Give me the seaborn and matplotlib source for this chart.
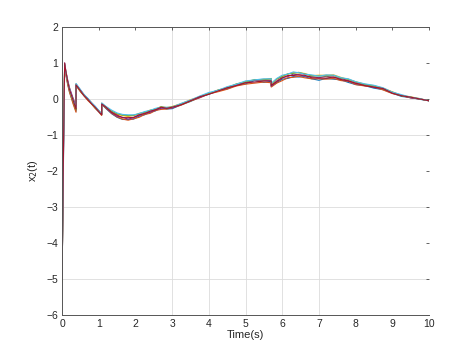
import numpy as np
import pandas as pd
import seaborn as sns
import matplotlib
matplotlib.use("Agg")
import matplotlib.pyplot as plt

# time grid, four pieces (the jumps repeat a time value)
t_a = [0.0, 0.04, 0.07, 0.1, 0.15, 0.2, 0.25, 0.3, 0.38]
t_b = [0.38, 0.5, 0.6, 0.7, 0.8, 0.9, 1.0, 1.08]
t_c = [1.08, 1.2, 1.35, 1.5, 1.65, 1.8, 1.95, 2.1, 2.25, 2.4, 2.55, 2.7, 2.85,
       3.0, 3.25, 3.5, 3.75, 4.0, 4.25, 4.5, 4.75, 5.0, 5.25, 5.5, 5.7]
t_d = [5.7, 5.85, 6.0, 6.15, 6.3, 6.45, 6.6, 6.8, 7.0, 7.2, 7.4, 7.6, 7.8,
       8.0, 8.25, 8.5, 8.75, 9.0, 9.25, 9.5, 9.75, 10.0]
time_s = t_a + t_b + t_c + t_d

# centre of the bundle of trajectories
x2_centre = ([-5.0, -1.2, 0.95, 0.75, 0.48, 0.27, 0.1, -0.04, -0.27]
             + [0.4, 0.23, 0.1, -0.01, -0.12, -0.23, -0.34, -0.43]
             + [-0.13, -0.24, -0.36, -0.45, -0.5, -0.52, -0.5, -0.45, -0.4, -0.35,
                -0.3, -0.25, -0.26, -0.24, -0.15, -0.05, 0.05, 0.14, 0.22, 0.3,
                0.38, 0.45, 0.49, 0.5, 0.51]
             + [0.38, 0.5, 0.58, 0.63, 0.66, 0.66, 0.64, 0.6, 0.58, 0.6, 0.6, 0.55,
                0.5, 0.43, 0.38, 0.33, 0.28, 0.17, 0.09, 0.04, 0.0, -0.05])

# how far each run sits from the centre
dev_run1 = ([0.0, 0.1, -0.03, -0.04, -0.05, -0.06, -0.05, -0.06, -0.07]
            + [-0.02, -0.02, -0.01, -0.02, -0.01, -0.02, -0.02, -0.01]
            + [-0.01, -0.03, -0.05, -0.06, -0.07, -0.05, -0.06, -0.03, -0.04, -0.02,
               -0.03, 0.01, -0.02, -0.03, -0.01, -0.02, 0.0, -0.01, 0.01, -0.02,
               0.0, -0.03, 0.02, -0.04, -0.02]
            + [-0.03, -0.05, -0.03, -0.06, -0.04, -0.05, -0.02, -0.04, -0.06, -0.03,
               -0.05, -0.02, -0.04, -0.03, -0.01, -0.03, -0.02, -0.01, -0.02, 0.0,
               -0.01, 0.0])
dev_run2 = ([0.1, -0.2, -0.06, -0.05, -0.07, -0.08, -0.07, -0.1, -0.1]
            + [-0.03, -0.03, -0.02, -0.03, -0.02, -0.03, -0.02, -0.03]
            + [-0.02, -0.02, -0.04, -0.05, -0.06, -0.07, -0.05, -0.06, -0.03, -0.05,
               -0.02, -0.04, -0.02, -0.01, -0.02, -0.01, -0.02, 0.0, -0.02, -0.03,
               -0.02, -0.04, -0.05, -0.03, -0.06]
            + [-0.05, -0.06, -0.07, -0.04, -0.06, -0.03, -0.05, -0.04, -0.02, -0.05,
               -0.03, -0.04, -0.01, -0.03, -0.02, 0.0, -0.03, -0.02, 0.0, -0.01,
               0.0, 0.0])
dev_run3 = ([-0.1, 0.3, 0.02, 0.03, 0.02, 0.04, 0.03, 0.05, 0.06]
            + [0.02, 0.01, 0.02, 0.01, 0.02, 0.01, 0.02, 0.02]
            + [0.01, 0.02, 0.03, 0.02, 0.04, 0.03, 0.05, 0.02, 0.03, 0.01,
               0.02, 0.04, 0.02, 0.03, 0.02, 0.03, 0.01, 0.02, 0.0, 0.03,
               0.02, 0.04, 0.03, 0.05, 0.04]
            + [0.02, 0.04, 0.06, 0.05, 0.08, 0.06, 0.07, 0.05, 0.08, 0.06,
               0.07, 0.05, 0.04, 0.05, 0.03, 0.04, 0.02, 0.03, 0.01, 0.02,
               0.01, 0.0])
dev_run4 = ([0.0, -0.1, 0.05, 0.04, 0.06, 0.05, 0.07, 0.06, 0.08]
            + [0.01, 0.02, 0.01, 0.02, 0.01, 0.02, 0.01, 0.01]
            + [0.0, -0.01, -0.02, -0.03, -0.01, -0.04, -0.02, -0.01, 0.01, -0.02,
               0.0, -0.01, 0.01, -0.01, 0.0, 0.01, -0.01, 0.01, 0.02, 0.0,
               0.02, 0.01, 0.03, 0.02, 0.01]
            + [-0.02, 0.0, 0.02, -0.01, 0.03, 0.01, 0.0, 0.02, 0.01, 0.03,
               0.0, 0.02, 0.01, 0.0, 0.02, -0.01, 0.01, 0.0, 0.01, -0.01,
               0.0, 0.0])
dev_run5 = ([-0.05, 0.2, -0.02, 0.0, -0.02, -0.01, -0.03, -0.02, -0.03]
            + [0.0, -0.01, 0.0, 0.01, 0.0, -0.01, 0.0, 0.0]
            + [0.01, 0.0, 0.02, 0.04, 0.05, 0.06, 0.04, 0.05, 0.03, 0.04,
               0.02, 0.03, 0.01, 0.02, 0.01, 0.0, 0.02, 0.01, 0.03, 0.01,
               0.04, 0.02, 0.05, 0.03, 0.06]
            + [0.04, 0.06, 0.04, 0.07, 0.05, 0.08, 0.06, 0.04, 0.06, 0.04,
               0.05, 0.03, 0.05, 0.04, 0.02, 0.03, 0.01, 0.02, 0.0, 0.01,
               0.0, 0.0])
dev_run6 = ([0.05, -0.3, 0.03, 0.02, 0.01, 0.02, 0.01, 0.02, 0.03]
            + [0.03, 0.03, 0.02, 0.03, 0.02, 0.03, 0.02, 0.02]
            + [0.02, 0.03, 0.05, 0.06, 0.07, 0.08, 0.06, 0.04, 0.05, 0.03,
               0.04, 0.02, 0.03, 0.01, 0.03, 0.02, 0.03, 0.04, 0.02, 0.04,
               0.03, 0.05, 0.04, 0.06, 0.05]
            + [0.05, 0.07, 0.08, 0.06, 0.09, 0.07, 0.05, 0.07, 0.05, 0.07,
               0.06, 0.04, 0.06, 0.05, 0.04, 0.05, 0.03, 0.02, 0.03, 0.01,
               0.01, 0.0])
dev_run7 = ([0.0, 0.0, 0.05, 0.03, 0.02, 0.0, 0.02, 0.01, -0.01]
            + [-0.01, 0.0, -0.01, 0.0, -0.01, 0.0, -0.01, -0.01]
            + [-0.01, 0.01, -0.01, 0.0, -0.02, 0.0, -0.01, 0.01, -0.01, 0.01,
               0.0, 0.02, 0.0, 0.01, -0.01, 0.0, 0.01, -0.01, 0.0, 0.01,
               -0.01, 0.0, -0.02, 0.0, -0.01]
            + [0.0, -0.02, 0.0, 0.02, -0.01, 0.01, 0.02, -0.01, 0.0, -0.02,
               0.01, -0.01, 0.0, 0.01, -0.01, 0.0, 0.01, -0.01, 0.0, 0.01,
               0.0, 0.0])

runs = [dev_run1, dev_run2, dev_run3, dev_run4, dev_run5, dev_run6, dev_run7]
matlab_colors = ["#0072BD", "#D95319", "#EDB120", "#7E2F8E",
                 "#77AC30", "#4DBEEE", "#A2142F"]

frames = []
for i, dev in enumerate(runs):
    frames.append(pd.DataFrame({
        "time": time_s,
        "x2": np.array(x2_centre) + np.array(dev),
        "run": i,
    }))
df = pd.concat(frames, ignore_index=True)

sns.set_style("white")
plt.rcParams["font.family"] = ["Liberation Sans", "DejaVu Sans"]

fig = plt.figure(figsize=(4.74, 3.55), dpi=100)
ax = fig.add_axes([0.131, 0.113, 0.774, 0.811])

sns.lineplot(data=df, x="time", y="x2", hue="run", palette=matlab_colors,
             estimator=None, sort=False, linewidth=0.8, legend=False, ax=ax)

ax.set_xlim(0, 10)
ax.set_ylim(-6, 2)
ax.set_xticks(range(0, 11))
ax.set_yticks(range(-6, 3))
ax.set_xlabel("Time(s)", fontsize=8, color="#262626", labelpad=1)
ax.set_ylabel("x$_2$(t)", fontsize=8, color="#262626", labelpad=4)
ax.tick_params(direction="in", length=2.5, width=0.5, labelsize=7.5,
               colors="#262626", top=True, right=True, pad=3)

# faint grid, only the lines that survive in the picture
ax.grid(True, color="#dcdcdc", linewidth=0.6)
for pos, line in zip(ax.get_xticks(), ax.xaxis.get_gridlines()):
    line.set_visible(3 <= pos <= 7)
for pos, line in zip(ax.get_yticks(), ax.yaxis.get_gridlines()):
    line.set_visible(pos in (0, -1, -3, -5))

for side in ["left", "bottom", "top"]:
    ax.spines[side].set_color("#555555")
    ax.spines[side].set_linewidth(0.7)
ax.spines["right"].set_visible(False)

fig.savefig("out.png", dpi=100)
